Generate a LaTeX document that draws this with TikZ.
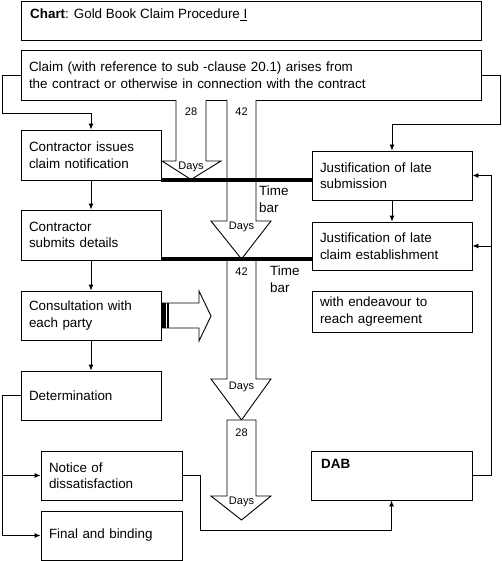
\documentclass[tikz,border=0pt]{standalone}
\usepackage{fontspec}
\setmainfont{Liberation Sans}
\usetikzlibrary{arrows.meta,calc}
\begin{document}
\begin{tikzpicture}[x=1pt,y=-1pt,
  every node/.style={font=\fontsize{13.4}{16.5}\selectfont},
  box/.style={draw,line width=0.9pt,rectangle,align=left,inner xsep=8pt,inner ysep=0pt},
  lbl/.style={inner sep=0pt},
  small/.style={inner sep=0pt,font=\fontsize{11}{13}\selectfont},
  conn/.style={line width=0.9pt},
  arr/.style={line width=0.9pt,-{Latex[length=6pt,width=5pt]}},
  bar/.style={line width=4pt},
  blk/.style={line width=0.9pt,fill=white,line join=miter}]
\useasboundingbox (0,0) rectangle (502,561);

% boxes
\node[box,minimum width=460,minimum height=39] (title) at (251,20.5) {};
\node[lbl,anchor=base west] (titletext) at (30,18.5) {\textbf{Chart}: Gold Book Claim Procedure\underline{\ I}};
\node[box,text width=444,minimum height=50] (claim) at (251,75) {Claim (with reference to sub -clause 20.1) arises from\\the contract or otherwise in connection with the contract};
\node[box,text width=124,minimum height=50] (cis) at (91,155) {Contractor issues\\claim notification};
\node[box,text width=124,minimum height=50] (csd) at (91,235) {Contractor\\submits details};
\node[box,text width=124,minimum height=49] (con) at (91,315.5) {Consultation with\\each party};
\node[box,text width=124,minimum height=49] (det) at (91,395.5) {Determination};
\node[box,text width=125,minimum height=49] (not) at (111.5,475.5) {Notice of\\dissatisfaction};
\node[box,text width=125,minimum height=49] (fin) at (111.5,535.5) {Final and binding};
\node[box,text width=144,minimum height=49] (sub) at (392,175.5) {Justification of late\\submission};
\node[box,text width=144,minimum height=48] (est) at (392,246) {Justification of late\\claim establishment};
\node[box,text width=144,minimum height=41] (end) at (392,311.5) {with endeavour to\\reach agreement};
\node[box,minimum width=161,minimum height=49] (dab) at (391.5,475.5) {};
\node[lbl,anchor=base west] (dabtext) at (321,468) {\textbf{DAB}};

% helper coordinates
\coordinate (ll) at (2,0);
\coordinate (rt) at (500,0);
\coordinate (rr) at (491,0);

% block arrows (Days)
\draw[blk] (176,100) -- (176,161) -- (162,161) -- (191,179.5) -- (221,161) -- (206,161) -- (206,100);
\draw[blk] (227,100) -- (227,221) -- (211,221) -- (241.5,259) -- (271,221) -- (256,221) -- (256,100);
\draw[blk] (227,259) -- (227,379) -- (211,379) -- (241.5,420) -- (271,379) -- (256,379) -- (256,259);
\draw[blk] (227,496) -- (227,420) -- (256,420) -- (256,496) -- (271,496) -- (241.5,520) -- (211,496) -- cycle;

% consultation block arrow
\draw[blk] (con.east |- 0,303) -- (199,303) -- (199,291) -- (211,316) -- (199,341) -- (199,328) -- (con.east |- 0,328);
\fill (161,303) rectangle (165.5,328);
\draw[line width=1.2pt] (168,303) -- (168,328);

% labels on block arrows
\node[small] (d28a) at (191,112) {28};
\node[small] (d42a) at (241.5,112) {42};
\node[small] (daysa) at (191,167) {Days};
\node[small] (daysb) at (241.5,227) {Days};
\node[small] (d42b) at (241.5,272) {42};
\node[small] (daysc) at (241.5,387) {Days};
\node[small] (d28b) at (241.5,433) {28};
\node[small] (daysd) at (241.5,502) {Days};
\node[lbl,align=left,anchor=north west] (tb1) at (259,186) {Time\\bar};
\node[lbl,align=left,anchor=north west] (tb2) at (270,266) {Time\\bar};

% time bars
\draw[bar] (cis.south east) -- (cis.south east -| sub.west);
\draw[bar] ($(csd.south east)+(0,-1)$) -- ($(csd.south east -| est.west)+(0,-1)$);

% connectors
\draw[arr] (claim.west) -- (ll |- claim.west) |- ($(cis.north)+(0,-16)$) -- (cis.north);
\draw[arr] (claim.east) -- (rt |- claim.east) |- ($(sub.north)+(0,-26)$) -- (sub.north);
\draw[arr] (cis) -- (csd);
\draw[arr] (csd) -- (con);
\draw[arr] (con) -- (det);
\draw[arr] (sub) -- (est);
\draw[arr] (det.west) -- (ll |- det.west) |- (not.west);
\draw[arr] (ll |- not.west) |- (fin.west);
\draw[arr] (not.east) -- ($(not.east)+(18,0)$) |- ($(dab.south)+(0,30)$) -- (dab.south);
\draw[arr] (dab.east) -| (rr |- sub.east) -- (sub.east);
\draw[arr] (rr |- est.east) -- (est.east);
\end{tikzpicture}
\end{document}
